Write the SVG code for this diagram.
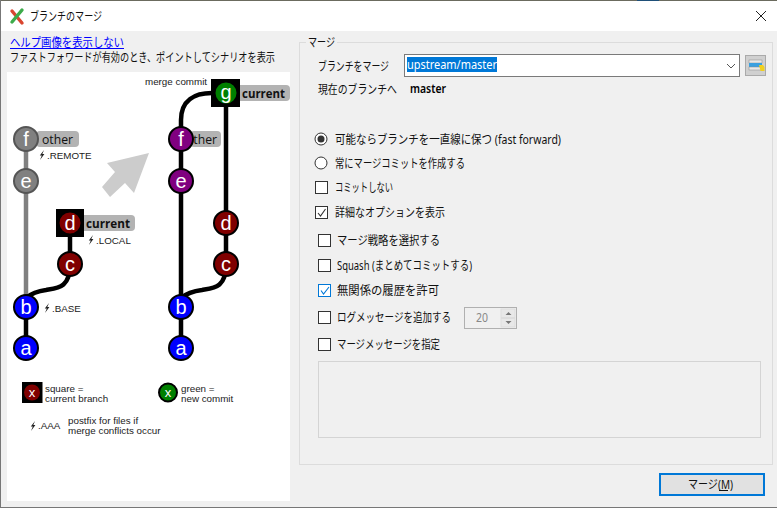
<svg xmlns="http://www.w3.org/2000/svg" width="777" height="508" viewBox="0 0 777 508">
<style>
text{font-family:"Noto Sans","Noto Sans CJK JP",sans-serif;font-size:12px;fill:#111;dominant-baseline:central}
.g{font-family:"Liberation Sans",sans-serif;font-size:9.8px;fill:#222}
.n{font-family:"Liberation Sans",sans-serif;font-size:20px;fill:#fff;text-anchor:middle}
.t{font-family:"Open Sans",sans-serif;font-size:13px;fill:#111}
.b{font-weight:700}
.tag{fill:#b3b3b3}
.w{stroke:#000;stroke-width:4.5;fill:none}
.m{fill:#800000}.p{fill:#800080}.u{fill:#00f}.y{fill:#808080;stroke:#555}
circle{stroke:#000;stroke-width:2}
.box{fill:#fff;stroke:#333;stroke-width:1}
.r{fill:#fff;stroke:#333;stroke-width:1}
.bolt{fill:#222}
</style>
<defs>
<path id="bolt" class="bolt" d="M2 -5 L-2.2 0.6 L-0.2 0.6 L-2 5 L2.4 -1 L0.3 -1 Z"/>
<path id="chk" d="M2.5 6.5 L5 9.5 L10 2.5" fill="none" stroke="#333" stroke-width="1.1"/>
</defs>

<rect width="777" height="508" fill="#f0f0f0"/>
<g id="titlebar">
<rect x="0" y="0" width="777" height="31" fill="#fff"/>
<rect x="0" y="0" width="777" height="1" fill="#6b6b5e"/>
<rect x="637" y="0" width="22" height="1" fill="#1f4f78"/>
<path d="M12 11 L22 23" stroke="#d9452f" stroke-width="3.4" stroke-linecap="round"/>
<path d="M12 22 L22 10" stroke="#3dab4a" stroke-width="3.4" stroke-linecap="round"/>
<text x="30" y="16" textLength="72" lengthAdjust="spacingAndGlyphs">ブランチのマージ</text>
<path d="M756 11 L766 21 M766 11 L756 21" stroke="#222" stroke-width="1" fill="none"/>
</g>
<rect x="0" y="0" width="1" height="508" fill="#777"/>
<rect x="0" y="507" width="777" height="1" fill="#777"/>

<text x="10" y="42" textLength="114" lengthAdjust="spacingAndGlyphs" style="fill:#00f">ヘルプ画像を表示しない</text>
<rect x="10" y="48" width="114" height="1" fill="#00f"/>
<text x="10" y="57" textLength="265" lengthAdjust="spacingAndGlyphs">ファストフォワードが有効のとき、ポイントしてシナリオを表示</text>

<rect x="7" y="72" width="283" height="429" fill="#fff"/>
<polygon points="149,153 134,193 125,183 110,197 102,187 115,172 107,163" fill="#ccc"/>

<g id="connectors">
<path d="M26 139 V307" stroke="#808080" stroke-width="4.5" fill="none"/>
<path class="w" d="M26 307 V348"/>
<path class="w" d="M70 223 V264"/>
<path class="w" d="M70 264 C70 288 58 288 46 290 C38 291 32 293 26 298"/>
<path class="w" d="M181 139 V348"/>
<path class="w" d="M226 93 V264"/>
<path class="w" d="M212 93 C195 93 181 100 181 120 V139"/>
<path class="w" d="M226 264 C226 288 214 288 202 290 C194 291 187 293 181 298"/>
</g>

<g id="tags">
<rect class="tag" x="36" y="131" width="43" height="16" rx="4"/>
<text class="t" x="42" y="139" textLength="31" lengthAdjust="spacingAndGlyphs">other</text>
<rect class="tag" x="80" y="215" width="55" height="16" rx="4"/>
<text class="t b" x="86" y="223" textLength="44" lengthAdjust="spacingAndGlyphs">current</text>
<rect class="tag" x="190" y="131" width="31" height="16" rx="4"/>
<text class="t" x="186" y="139" textLength="31" lengthAdjust="spacingAndGlyphs">other</text>
<rect class="tag" x="236" y="85" width="54" height="16" rx="4"/>
<text class="t b" x="242" y="93" textLength="43" lengthAdjust="spacingAndGlyphs">current</text>
</g>

<g id="node-left-f"><circle class="y" cx="26" cy="139" r="12"/><text class="n" x="26" y="139">f</text></g>
<g id="node-left-e"><circle class="y" cx="26" cy="181" r="12"/><text class="n" x="26" y="181">e</text></g>
<g id="node-left-d"><rect x="56" y="209" width="28" height="28" fill="#000"/><circle class="m" cx="70" cy="223" r="11.5"/><text class="n" x="70" y="223">d</text></g>
<g id="node-left-c"><circle class="m" cx="70" cy="264" r="12"/><text class="n" x="70" y="264">c</text></g>
<g id="node-left-b"><circle class="u" cx="26" cy="307" r="12"/><text class="n" x="26" y="307">b</text></g>
<g id="node-left-a"><circle class="u" cx="26" cy="348" r="12"/><text class="n" x="26" y="348">a</text></g>

<g id="node-right-g"><rect x="211" y="79" width="29" height="28" fill="#000"/><circle cx="226" cy="93" r="11.5" fill="#008000"/><text class="n" x="226" y="92">g</text></g>
<g id="node-right-f"><circle class="p" cx="181" cy="139" r="12"/><text class="n" x="181" y="139">f</text></g>
<g id="node-right-e"><circle class="p" cx="181" cy="181" r="12"/><text class="n" x="181" y="181">e</text></g>
<g id="node-right-d"><circle class="m" cx="226" cy="223" r="12"/><text class="n" x="226" y="223">d</text></g>
<g id="node-right-c"><circle class="m" cx="226" cy="264" r="12"/><text class="n" x="226" y="264">c</text></g>
<g id="node-right-b"><circle class="u" cx="181" cy="307" r="12"/><text class="n" x="181" y="307">b</text></g>
<g id="node-right-a"><circle class="u" cx="181" cy="348" r="12"/><text class="n" x="181" y="348">a</text></g>

<g id="labels">
<text class="g" x="145" y="81">merge commit</text>
<use href="#bolt" x="42" y="155"/><text class="g" x="47" y="155">.REMOTE</text>
<use href="#bolt" x="91" y="240"/><text class="g" x="96" y="240">.LOCAL</text>
<use href="#bolt" x="47" y="308"/><text class="g" x="52" y="308">.BASE</text>
</g>

<g id="legend">
<rect x="22" y="382" width="20.500" height="21" fill="#000"/>
<circle cx="32" cy="392.500" r="8" class="m" style="stroke:none"/>
<text class="n" x="32" y="392" style="font-size:13px">x</text>
<text class="g" x="45" y="388">square =</text>
<text class="g" x="45" y="398">current branch</text>
<circle cx="168" cy="392.500" r="9" fill="#008000"/>
<text class="n" x="168" y="392" style="font-size:13px">x</text>
<text class="g" x="181" y="388">green =</text>
<text class="g" x="181" y="398">new commit</text>
<use href="#bolt" x="33" y="426"/>
<text class="g" x="38" y="425">.AAA</text>
<text class="g" x="68" y="420">postfix for files if</text>
<text class="g" x="68" y="430">merge conflicts occur</text>
</g>

<g id="options">
<rect x="299.500" y="42.500" width="473" height="422" fill="none" stroke="#dcdcdc"/>
<rect x="306" y="36" width="31" height="12" fill="#f0f0f0"/>
<text x="308" y="42" textLength="27" lengthAdjust="spacingAndGlyphs">マージ</text>
<text x="318" y="66" textLength="71" lengthAdjust="spacingAndGlyphs">ブランチをマージ</text>
<rect x="404.500" y="54.500" width="335" height="22" fill="#fff" stroke="#7a7a7a"/>
<rect x="407" y="57" width="90" height="15" fill="#0078d7"/>
<text x="407" y="64.500" textLength="90" lengthAdjust="spacingAndGlyphs" style="fill:#fff">upstream/master</text>
<path d="M727 64 L731 68 L735 64" fill="none" stroke="#555"/>
<rect x="745.500" y="55.500" width="20" height="20" fill="#d0d0d0" stroke="#aaa"/>
<rect x="749" y="60" width="13" height="3" fill="#e8e8e8" stroke="#888" stroke-width="0.500"/>
<rect x="749" y="63" width="13" height="4" fill="#3aa0e0"/>
<rect x="749" y="67" width="13" height="3" fill="#e8e8e8" stroke="#888" stroke-width="0.500"/>
<path d="M759 65 h4 l1.500 2 v4 h-4 z" fill="#f0d020"/>
<text x="318" y="89" textLength="79" lengthAdjust="spacingAndGlyphs">現在のブランチへ</text>
<text x="410" y="88.500" textLength="36" lengthAdjust="spacingAndGlyphs" style="font-weight:600;fill:#000">master</text>

<circle cx="321" cy="139" r="6" class="r"/><circle cx="321" cy="139" r="3.500" fill="#333" style="stroke:none"/>
<text x="335" y="139" textLength="226" lengthAdjust="spacingAndGlyphs">可能ならブランチを一直線に保つ (fast forward)</text>
<circle cx="321" cy="163" r="6" class="r"/>
<text x="335" y="163" textLength="130" lengthAdjust="spacingAndGlyphs">常にマージコミットを作成する</text>

<rect class="box" x="315.500" y="181.500" width="12" height="12"/>
<text x="335" y="187" textLength="58" lengthAdjust="spacingAndGlyphs">コミットしない</text>
<rect class="box" x="315.500" y="206.500" width="12" height="12"/>
<use href="#chk" x="315.500" y="206.500"/>
<text x="335" y="212" textLength="110" lengthAdjust="spacingAndGlyphs">詳細なオプションを表示</text>

<rect class="box" x="318.500" y="234.500" width="12" height="12"/>
<text x="337" y="240" textLength="103" lengthAdjust="spacingAndGlyphs">マージ戦略を選択する</text>
<rect class="box" x="318.500" y="259.500" width="12" height="12"/>
<text x="337" y="265" textLength="135" lengthAdjust="spacingAndGlyphs">Squash (まとめてコミットする)</text>
<rect x="318.500" y="284.500" width="12" height="12" fill="#fff" stroke="#0078d7"/>
<path d="M321 290.500 L323.500 294 L329 287" fill="none" stroke="#0078d7" stroke-width="1.100"/>
<text x="337" y="290" textLength="102" lengthAdjust="spacingAndGlyphs">無関係の履歴を許可</text>
<rect class="box" x="318.500" y="311.500" width="12" height="12"/>
<text x="337" y="317" textLength="114" lengthAdjust="spacingAndGlyphs">ログメッセージを追加する</text>
<rect x="464.500" y="307.500" width="52" height="21" fill="#f0f0f0" stroke="#b0b0b0"/>
<text x="476" y="317" textLength="12" lengthAdjust="spacingAndGlyphs" style="fill:#888">20</text>
<rect x="501" y="309" width="14" height="8.500" fill="#e8e8e8" stroke="#ddd"/>
<rect x="501" y="318.500" width="14" height="8.500" fill="#e8e8e8" stroke="#ddd"/>
<path d="M505.500 315 h6 l-3 -3 z M505.500 321 h6 l-3 3 z" fill="#777"/>
<rect class="box" x="318.500" y="338.500" width="12" height="12"/>
<text x="337" y="344" textLength="103" lengthAdjust="spacingAndGlyphs">マージメッセージを指定</text>
<rect x="318.500" y="361.500" width="442" height="76" fill="#f0f0f0" stroke="#d4d4d4"/>
</g>

<g id="merge-button">
<rect x="660" y="474" width="104" height="21" fill="#e1e1e1" stroke="#0078d7" stroke-width="2"/>
<text x="688" y="484" textLength="45" lengthAdjust="spacingAndGlyphs">マージ(M)</text>
<rect x="719" y="490" width="9" height="1" fill="#111"/>
</g>
</svg>
